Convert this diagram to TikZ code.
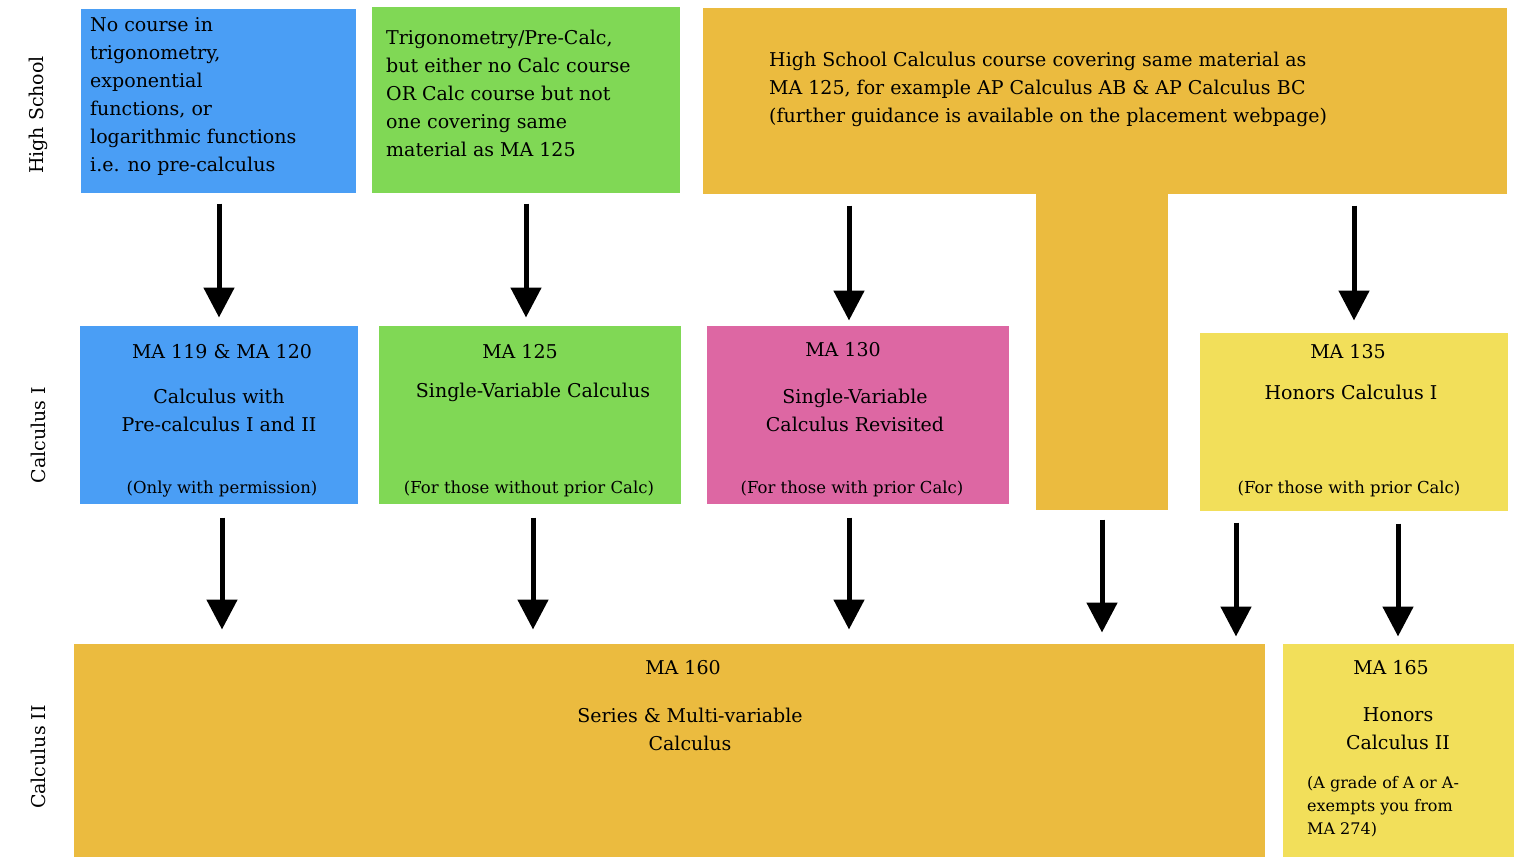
\documentclass[tikz,border=0pt]{standalone}
\usepackage{fontspec}
\setmainfont{DejaVu Serif}
\usetikzlibrary{arrows.meta}
\definecolor{cblue}{HTML}{4A9EF5}
\definecolor{cgreen}{HTML}{80D855}
\definecolor{corange}{HTML}{EBBB3F}
\definecolor{cpink}{HTML}{DD67A3}
\definecolor{cyellow}{HTML}{F2DF5A}
\begin{document}
\begin{tikzpicture}[x=1pt,y=-1pt,
  box/.style={draw=none,inner sep=0,outer sep=0},
  txt/.style={font=\fontsize{19}{28}\selectfont,inner sep=0,anchor=north west,align=left},
  ctr/.style={font=\fontsize{19}{28}\selectfont,inner sep=0,align=center},
  sm/.style={font=\fontsize{16.5}{23}\selectfont,inner sep=0},
  side/.style={font=\fontsize{19}{24}\selectfont,rotate=90,inner sep=0},
  arr/.style={line width=5pt,-{Triangle[width=30pt,length=30pt]}}]
\useasboundingbox (0,0) rectangle (1536,864);
\fill[white] (0,0) rectangle (1536,864);
% boxes
\fill[cblue] (81,9) rectangle (356,193);
\fill[cgreen] (372,7) rectangle (680,193);
\fill[corange] (703,8) rectangle (1507,194);
\fill[corange] (1036,190) rectangle (1168,510);
\fill[cblue] (80,326) rectangle (358,504);
\fill[cgreen] (379,326) rectangle (681,504);
\fill[cpink] (707,326) rectangle (1009,504);
\fill[cyellow] (1200,333) rectangle (1508,511);
\fill[corange] (74,644) rectangle (1265,857);
\fill[cyellow] (1283,644) rectangle (1514,857);
% named anchors
\node[box] (hs1) at (219,193) {};
\node[box] (hs2) at (526,193) {};
\node[box] (hs3a) at (849,194) {};
\node[box] (hs3b) at (1354,194) {};
\node[box] (stem) at (1102,510) {};
\node[box] (c1) at (222,504) {};
\node[box] (c2) at (533,504) {};
\node[box] (c3) at (849,504) {};
\node[box] (c4a) at (1236,511) {};
\node[box] (c4b) at (1398,511) {};
\node[box] (c1t) at (219,326) {};
\node[box] (c2t) at (526,326) {};
\node[box] (c3t) at (849,326) {};
\node[box] (c4t) at (1354,333) {};
\node[box] (b1) at (222,644) {};
\node[box] (b2) at (533,644) {};
\node[box] (b3) at (849,644) {};
\node[box] (b4) at (1102,644) {};
\node[box] (b5) at (1236,644) {};
\node[box] (b6) at (1398,644) {};
% texts
\node[txt] (t1) at (90,17) {No course in\\trigonometry,\\exponential\\functions, or\\logarithmic functions\\i.e. no pre-calculus};
\node[txt] (t2) at (386,30) {Trigonometry/Pre-Calc,\\but either no Calc course\\OR Calc course but not\\one covering same\\material as MA 125};
\node[txt] (t3) at (769,52) {High School Calculus course covering same material as\\MA 125, for example AP Calculus AB \& AP Calculus BC\\(further guidance is available on the placement webpage)};
\node[ctr] (u1) at (222,352) {MA 119 \& MA 120};
\node[ctr] (u1b) at (219,410) {Calculus with\\Pre-calculus I and II};
\node[sm] (u1c) at (222,489) {(Only with permission)};
\node[ctr] (u2) at (520,352) {MA 125};
\node[ctr] (u2b) at (533,392) {Single-Variable Calculus};
\node[sm] (u2c) at (529,489) {(For those without prior Calc)};
\node[ctr] (u3) at (843,350) {MA 130};
\node[ctr] (u3b) at (855,410) {Single-Variable\\Calculus Revisited};
\node[sm] (u3c) at (852,489) {(For those with prior Calc)};
\node[ctr] (u4) at (1348,352) {MA 135};
\node[ctr] (u4b) at (1351,392) {Honors Calculus I};
\node[sm] (u4c) at (1349,489) {(For those with prior Calc)};
\node[ctr] (v1) at (683,668) {MA 160};
\node[ctr] (v1b) at (690,729) {Series \& Multi-variable\\Calculus};
\node[ctr] (v2) at (1391,668) {MA 165};
\node[ctr] (v2b) at (1398,729) {Honors\\Calculus II};
\node[sm,anchor=north west,align=left,font=\fontsize{16}{23}\selectfont] (v2c) at (1307,776) {(A grade of A or A-\\exempts you from\\MA 274)};
\node[side] (s1) at (38,115) {High School};
\node[side] (s2) at (38,435) {Calculus I};
\node[side] (s3) at (38,757) {Calculus II};
% arrows
\draw[arr,shorten <=10pt,shorten >=8pt] (hs1) -- (c1t);
\draw[arr,shorten <=10pt,shorten >=8pt] (hs2) -- (c2t);
\draw[arr,shorten <=11pt,shorten >=5pt] (hs3a) -- (c3t);
\draw[arr,shorten <=11pt,shorten >=12pt] (hs3b) -- (c4t);
\draw[arr,shorten <=13pt,shorten >=14pt] (c1) -- (b1);
\draw[arr,shorten <=13pt,shorten >=14pt] (c2) -- (b2);
\draw[arr,shorten <=13pt,shorten >=14pt] (c3) -- (b3);
\draw[arr,shorten <=9pt,shorten >=11pt] (stem) -- (b4);
\draw[arr,shorten <=11pt,shorten >=7pt] (c4a) -- (b5);
\draw[arr,shorten <=12pt,shorten >=7pt] (c4b) -- (b6);
\end{tikzpicture}
\end{document}
